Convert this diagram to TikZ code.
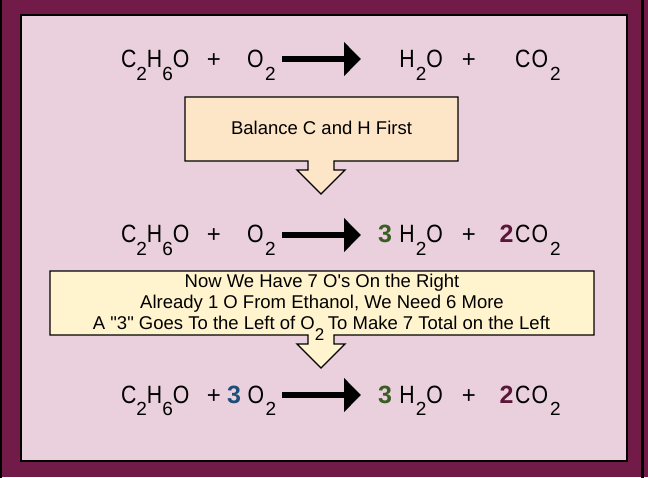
\documentclass[tikz,border=0pt]{standalone}
\usepackage{fontspec}
\setmainfont{Liberation Sans}
\newfontfamily\condfont[FakeStretch=0.85]{Liberation Sans}
\usetikzlibrary{arrows.meta}
\definecolor{framecol}{HTML}{721B48}
\definecolor{panelcol}{HTML}{EAD0DC}
\definecolor{peachcol}{HTML}{FDE5C8}
\definecolor{creamcol}{HTML}{FFF4CE}
\definecolor{greencol}{HTML}{385E24}
\definecolor{wine}{HTML}{5C163A}
\definecolor{bluecol}{HTML}{1E4E78}
\newcommand\chsub[1]{\raisebox{-12.5pt}{\rmfamily\fontsize{19}{19}\selectfont #1}}
\newcommand\boxsub[1]{\raisebox{-11pt}{\fontsize{17}{17}\selectfont #1}}
\begin{document}
\begin{tikzpicture}[x=1pt,y=-1pt,
  eq/.style={inner sep=0pt, anchor=base west, font=\condfont\fontsize{25}{25}\selectfont},
  op/.style={inner sep=0pt, anchor=base, font=\fontsize{24}{24}\selectfont},
  coef/.style={inner sep=0pt, anchor=base, font=\fontsize{25}{25}\selectfont\bfseries},
  rxn/.style={line width=6pt, -{Triangle[length=17pt,width=33pt]}},
  callout/.style={draw=black, line width=1.3pt, line join=miter},
  note/.style={inner sep=0pt, anchor=base, font=\fontsize{18.5}{18.5}\selectfont}]
\useasboundingbox (0,0) rectangle (648,477);
\clip (0,0) rectangle (648,477);
% frame
\fill[framecol] (0,0) rectangle (648,477);
\draw[line width=2.5pt] (1,-10) -- (1,490);
\draw[line width=2.5pt] (642.7,-10) -- (642.7,490);
\draw[line width=2.3pt, fill=panelcol] (21,15) rectangle (626.7,461.3);

% equation 1
\node[eq] (r1a) at (120.8,67.5) {C\chsub{2}H\chsub{6}O};
\node[op] (r1p) at (214,67.5) {+};
\node[eq] (r1b) at (247,67.5) {O\kern1.5pt\chsub{2}};
\coordinate (r1s) at (282,59);
\coordinate (r1e) at (361,59);
\draw[rxn] (r1s) -- (r1e);
\node[eq] (r1c) at (399.2,67.5) {H\kern1pt\chsub{2}O};
\node[op] (r1q) at (469,67.5) {+};
\node[eq] (r1d) at (515,67.5) {C\kern1pt O\kern2pt\chsub{2}};

% callout 1
\draw[callout, fill=peachcol] (185,97) -- (458,97) -- (458,161) -- (334,161) -- (334,170) -- (345,170) -- (321,194) -- (297,170) -- (308,170) -- (308,161) -- (185,161) -- cycle;
\node[note] (b1) at (321.5,134.3) {Balance C and H First};

% equation 2
\node[eq] (r2a) at (120.8,242.5) {C\chsub{2}H\chsub{6}O};
\node[op] (r2p) at (214,242.5) {+};
\node[eq] (r2b) at (247,242.5) {O\kern1.5pt\chsub{2}};
\coordinate (r2s) at (282,235);
\coordinate (r2e) at (361,235);
\draw[rxn] (r2s) -- (r2e);
\node[coef, text=greencol] (r2k) at (385,242.5) {3};
\node[eq] (r2c) at (399.2,242.5) {H\kern1pt\chsub{2}O};
\node[op] (r2q) at (469,242.5) {+};
\node[coef, text=wine] (r2m) at (506.5,242.5) {2};
\node[eq] (r2d) at (515,242.5) {C\kern1pt O\kern2pt\chsub{2}};

% callout 2
\draw[callout, fill=creamcol] (50,271) -- (594,271) -- (594,335) -- (334,335) -- (334,344) -- (345,344) -- (321,368) -- (297,344) -- (308,344) -- (308,335) -- (50,335) -- cycle;
\node[note] (n1) at (322,287.7) {Now We Have 7 O\textquotesingle s On the Right};
\node[note] (n2) at (322,308.3) {Already 1 O From Ethanol, We Need 6 More};
\node[note] (n3) at (321.5,329.3) {A \textquotedbl 3\textquotedbl{} Goes To the Left of O\boxsub{2}\hspace{-1.5pt} To Make 7 Total on the Left};

% equation 3
\node[eq] (r3a) at (120.8,403) {C\chsub{2}H\chsub{6}O};
\node[op] (r3p) at (214,403) {+};
\node[coef, text=bluecol] (r3k) at (234,403) {3};
\node[eq] (r3b) at (247.5,403) {O\kern1.5pt\chsub{2}};
\coordinate (r3s) at (282,395);
\coordinate (r3e) at (361,395);
\draw[rxn] (r3s) -- (r3e);
\node[coef, text=greencol] (r3n) at (385,403) {3};
\node[eq] (r3c) at (399.2,403) {H\kern1pt\chsub{2}O};
\node[op] (r3q) at (469,403) {+};
\node[coef, text=wine] (r3m) at (506.5,403) {2};
\node[eq] (r3d) at (515,403) {C\kern1pt O\kern2pt\chsub{2}};
\end{tikzpicture}
\end{document}
